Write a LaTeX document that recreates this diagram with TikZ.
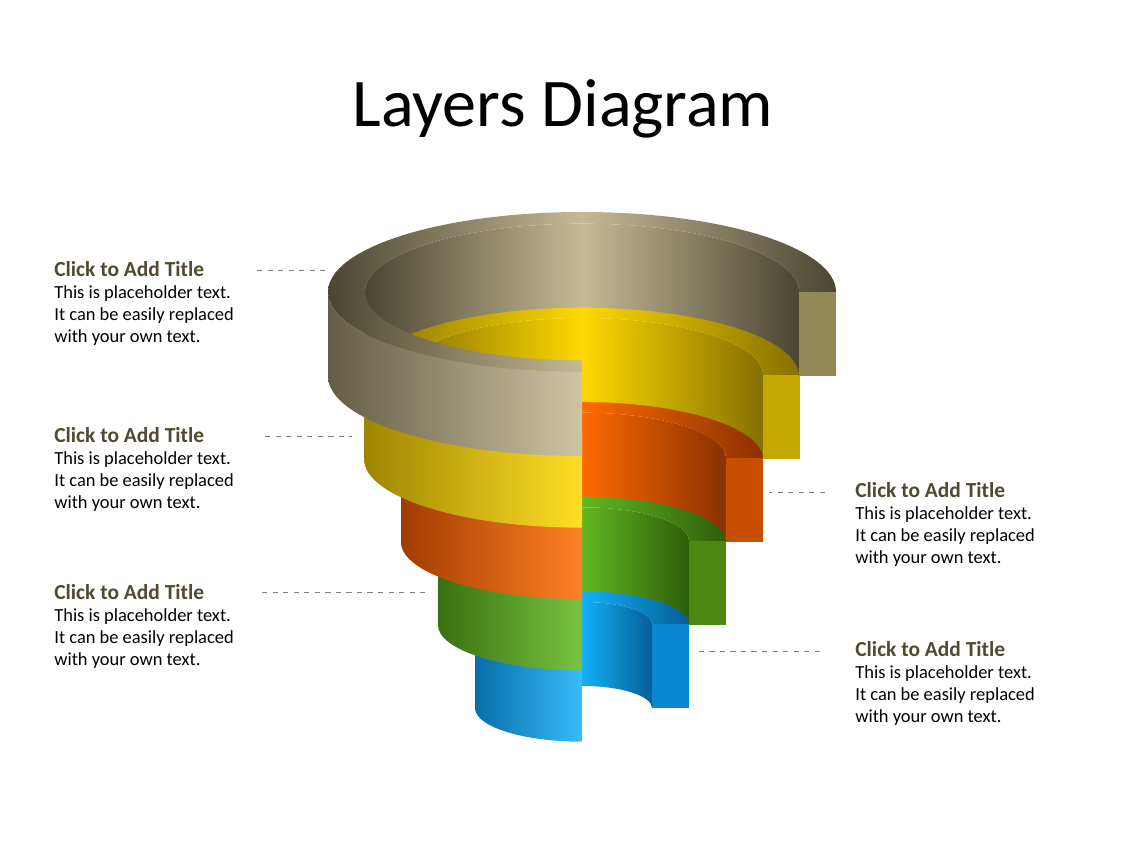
\documentclass[tikz,border=0pt]{standalone}
\usepackage{fontspec}
\setmainfont{Carlito}
\usetikzlibrary{positioning}
\definecolor{khadark}{HTML}{4A4632}\definecolor{khalight}{HTML}{C6BA95}\definecolor{khacut}{HTML}{948A58}
\definecolor{yeldark}{HTML}{857000}\definecolor{yellight}{HTML}{FFD800}\definecolor{yelcut}{HTML}{C4A800}
\definecolor{orgdark}{HTML}{8A3000}\definecolor{orglight}{HTML}{FF6A00}\definecolor{orgcut}{HTML}{C84E00}
\definecolor{grndark}{HTML}{2E5E0A}\definecolor{grnlight}{HTML}{62B820}\definecolor{grncut}{HTML}{4A8812}
\definecolor{bludark}{HTML}{055E96}\definecolor{blulight}{HTML}{14B0F8}\definecolor{blucut}{HTML}{0888D0}
\definecolor{labcol}{HTML}{4F4A30}
\tikzset{%
	lab/.style = {anchor = north west, align = left, inner sep = 0pt, font = \fontsize{10.5}{12.6}\selectfont},
	lead/.style = {gray, dashed, line width = 0.4pt}
}
\newcommand{\labtext}{{\color{labcol}\fontsize{12.2}{12.6}\selectfont\bfseries Click to Add Title}\\This is placeholder text.\\It can be easily replaced\\with your own text.}
\begin{document}
\begin{tikzpicture}[x=0.02cm, y=0.02cm]
	\useasboundingbox (0,0) rectangle (1128,846);
	\node (title) at (563,737) {\fontsize{38.8}{42}\selectfont Layers Diagram};
	% rings, lowest first
	\foreach \cy/\ro/\c in {624/107/blu, 541/144/grn, 458/181/org, 375/218/yel, 292/254/kha} {
		\pgfmathsetmacro{\Y}{846-\cy}
		\pgfmathsetmacro{\ri}{\ro-37}
		\pgfmathsetmacro{\ryo}{0.315*\ro}
		\pgfmathsetmacro{\ryi}{0.315*\ri}
		\shade [left color = \c dark, right color = \c dark, middle color = \c light]
			(582+\ri,\Y) arc [start angle = 0, end angle = 180, x radius = \ri, y radius = \ryi]
			-- ++(0,-84) arc [start angle = 180, end angle = 0, x radius = \ri, y radius = \ryi] -- cycle;
		\shade [left color = \c dark, right color = \c dark, middle color = \c light]
			(582+\ro,\Y) arc [start angle = 0, end angle = 270, x radius = \ro, y radius = \ryo]
			-- (582,\Y-\ryi) arc [start angle = 270, end angle = 0, x radius = \ri, y radius = \ryi] -- cycle;
		\shade [left color = \c dark!80!\c light, right color = \c light!85!white]
			(582-\ro,\Y) arc [start angle = 180, end angle = 270, x radius = \ro, y radius = \ryo]
			-- ++(0,-84) arc [start angle = 270, end angle = 180, x radius = \ro, y radius = \ryo] -- cycle;
		\fill [\c cut] (582+\ri,\Y) rectangle (582+\ro,\Y-84);
	}
	% labels
	\node [lab] (lab1) at (54,585) {\labtext};
	\node [lab] (lab2) at (54,419) {\labtext};
	\node [lab] (lab3) at (54,262) {\labtext};
	\node [lab] (lab4) at (855,364) {\labtext};
	\node [lab] (lab5) at (855,205) {\labtext};
	\coordinate (a1) at (257,576); \coordinate (b1) at (325,576);
	\coordinate (a2) at (265,410); \coordinate (b2) at (352,410);
	\coordinate (a3) at (262,254); \coordinate (b3) at (427,254);
	\coordinate (a4) at (825,354); \coordinate (b4) at (769,354);
	\coordinate (a5) at (820,195); \coordinate (b5) at (697,195);
	\foreach \i in {1,...,5} \draw [lead] (a\i) -- (b\i);
\end{tikzpicture}
\end{document}
